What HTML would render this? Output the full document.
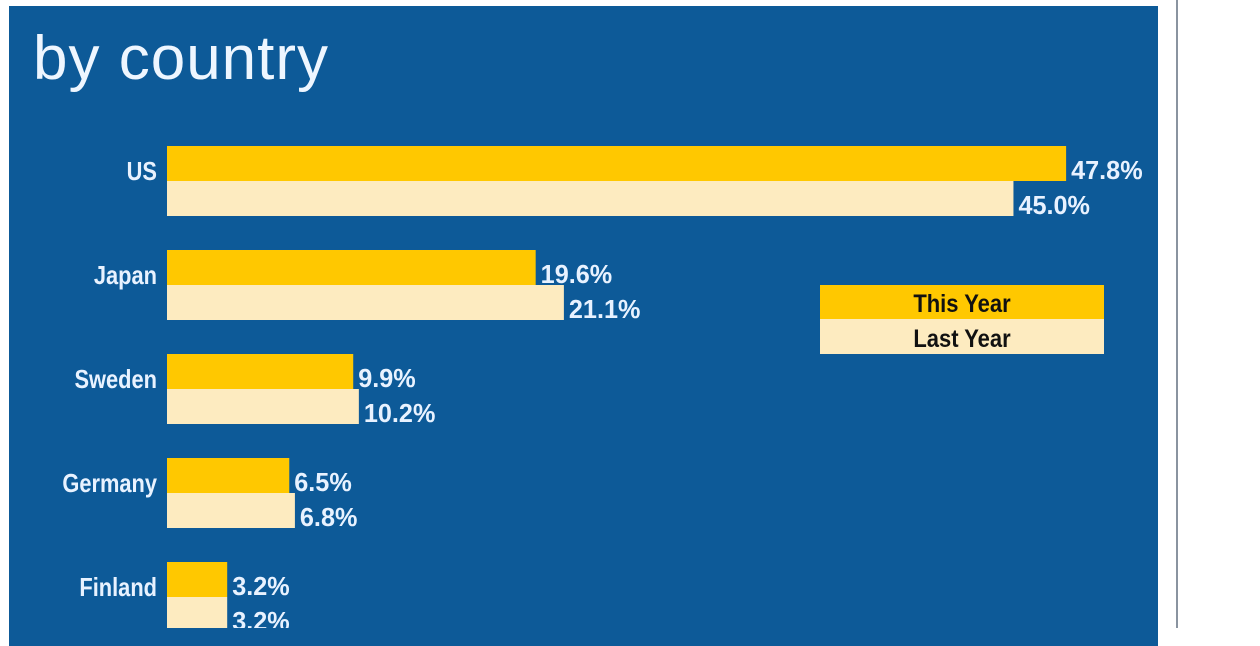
<!DOCTYPE html>
<html><head><meta charset="utf-8"><style>
body{margin:0;width:1260px;height:628px;background:#fff;overflow:hidden;position:relative;font-family:"Liberation Sans",sans-serif}
#panel{position:absolute;left:9px;top:6px;width:1149px;height:640px;background:#0d5a98}
#vline{position:absolute;left:1176px;top:0;width:2px;height:628px;background:#8a94a0}
#title{position:absolute;left:33px;top:23px;font-size:62px;color:#eef6ff;letter-spacing:1px}
svg{position:absolute;left:0;top:0}
.lbl{font-family:"Liberation Sans",sans-serif;font-weight:bold;font-size:26px;fill:#e8f2ff}
</style></head><body>
<div id="panel"></div>
<div id="vline"></div>
<div id="title">by country</div>
<svg id="chart" width="1260" height="628"></svg>
<script>
const categories=["US","Japan","Sweden","Germany","Finland"];
const thisYear=[47.8,19.6,9.9,6.5,3.2];
const lastYear=[45.0,21.1,10.2,6.8,3.2];
const NS="http://www.w3.org/2000/svg";
const svg=document.getElementById('chart');
const x0=167, pxPer=18.81, rowTop=146, rowStep=104, barH=35;
const xs=v=>x0+v*pxPer;
function mk(t,a){const e=document.createElementNS(NS,t);for(const k in a)e.setAttribute(k,a[k]);svg.appendChild(e);return e;}
categories.forEach((c,i)=>{
  const y=rowTop+i*rowStep;
  const t=mk('text',{x:0,y:0,'text-anchor':'end',class:'lbl',transform:`translate(157,${y+34}) scale(0.84,1)`});t.textContent=c;
  
  
  const b1=mk('rect',{x:x0,y:y,width:xs(thisYear[i])-x0,height:barH,fill:'#ffc800'});
  
  
  const b2=mk('rect',{x:x0,y:y+barH,width:xs(lastYear[i])-x0,height:barH,fill:'#fdebc0'});
  
  
  const v1=mk('text',{x:0,y:0,class:'lbl',transform:`translate(${xs(thisYear[i])+5},${y+33}) scale(0.97,1)`});v1.textContent=thisYear[i].toFixed(1)+'%';
  
  
  const v2=mk('text',{x:0,y:0,class:'lbl',transform:`translate(${xs(lastYear[i])+5},${y+barH+33}) scale(0.97,1)`});v2.textContent=lastYear[i].toFixed(1)+'%';
  
  
});
</script>
<svg width="1260" height="628">
<rect x="820" y="285" width="284" height="34" fill="#ffc800"/>
<rect x="820" y="319" width="284" height="35" fill="#fdebc0"/>
<text x="0" y="0" transform="translate(962,312) scale(0.88,1)" text-anchor="middle" style="font-family:'Liberation Sans',sans-serif;font-weight:bold;font-size:25px;fill:#111">This Year</text>
<text x="0" y="0" transform="translate(962,347) scale(0.88,1)" text-anchor="middle" style="font-family:'Liberation Sans',sans-serif;font-weight:bold;font-size:25px;fill:#111">Last Year</text>
</svg>
</body></html>
